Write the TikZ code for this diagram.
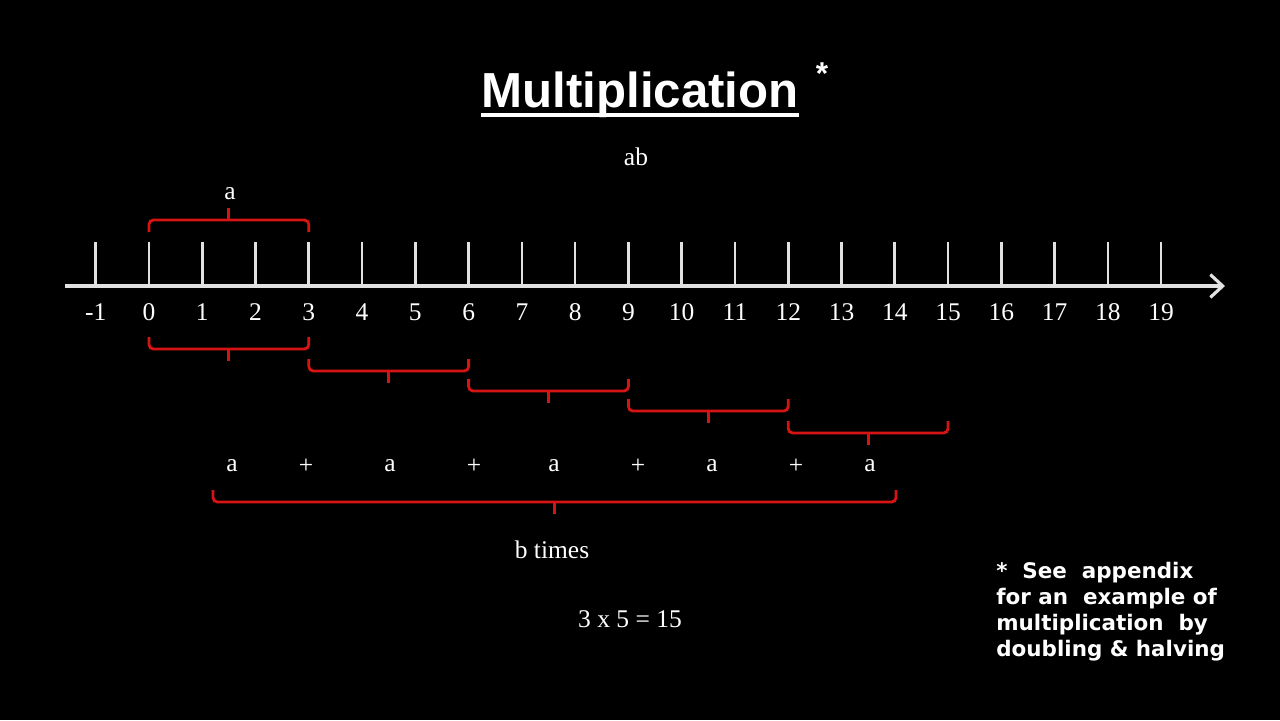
\documentclass[tikz,border=0pt]{standalone}
\usepackage{fontspec}
\setmainfont{Liberation Serif}
\newfontfamily\titlefont{Liberation Sans}
\newfontfamily\notefont{DejaVu Sans}
\usetikzlibrary{arrows.meta}
\definecolor{braceRed}{RGB}{215,20,20}
\definecolor{axisGrey}{RGB}{225,225,225}
\tikzset{
  axisline/.style={draw=axisGrey, line width=1.8pt},
  tickline/.style={draw=axisGrey, line width=1.5pt},
  brk/.style={draw=braceRed, line width=1.6pt, rounded corners=2.5pt},
  numlabel/.style={text=white, font=\fontsize{14.5}{16}\selectfont, inner sep=0pt},
  sumlabel/.style={text=white, font=\fontsize{14.5}{16}\selectfont, inner sep=0pt}
}
% bracket: left x, right x, bar y, end offset (signed)
\newcommand\redbrace[4]{%
  \draw[brk] (#1,#3+#4) -- (#1,#3) -- (#2,#3) -- (#2,#3+#4);
  \draw[brk] ({(#1+#2)/2},#3) -- ++(0,-#4);
}
\begin{document}
\begin{tikzpicture}[x=0.02cm, y=-0.02cm]
\fill[black] (0,0) rectangle (1280,720);
\useasboundingbox (0,0) rectangle (1280,720);

% title
\node[text=white, inner sep=0pt, font=\titlefont\bfseries\fontsize{28}{32}\selectfont] (title) at (640,95) {Multiplication};
\draw[white, line width=2.2pt] ([yshift=-4.2pt]title.base west) -- ([yshift=-4.2pt]title.base east);
\node[text=white, inner sep=0pt, font=\titlefont\bfseries\fontsize{18}{20}\selectfont] (star) at (822,74) {*};

\node[numlabel] (ab) at (636,157) {ab};

% number line
\coordinate (axisL) at (65,286);
\coordinate (axisR) at (1225,286);
\draw[axisline, -{Straight Barb[length=7pt, width=13pt, line width=1.8pt]}] (axisL) -- (axisR);
\foreach \n in {-1,...,19} {
  \coordinate (t\n) at ({149+53.27*\n},286);
  \draw[tickline] (t\n) -- ++(0,-44);
  \node[numlabel] (n\n) at ({149+53.27*\n},312) {\n};
}

% top bracket
\node[numlabel] (aTop) at (230,194) {a};
\redbrace{149}{308.8}{220}{12}

% steps of a
\redbrace{149}{308.8}{349}{-12}
\redbrace{308.8}{468.6}{371}{-12}
\redbrace{468.6}{628.4}{391}{-12}
\redbrace{628.4}{788.2}{411}{-12}
\redbrace{788.2}{948}{433}{-12}

% sum row
\foreach \x/\s [count=\i] in {232/a,306/+,390/a,474/+,554/a,638/+,712/a,796/+,870/a}
  \node[sumlabel] (s\i) at (\x,466) {\s};
\redbrace{213}{896}{502}{-12}

\node[sumlabel] (btimes) at (552,550) {b times};
\node[sumlabel] (example) at (630,619) {3 x 5 = 15};

% footnote
\node[text=white, inner sep=0pt, anchor=north west, align=left,
      font=\notefont\bfseries\fontsize{12.2}{14.7}\selectfont] (note) at (996,562)
{*\ \ See\ \ appendix\\for an\ \ example of\\multiplication\ \ by\\doubling \& halving};
\end{tikzpicture}
\end{document}
